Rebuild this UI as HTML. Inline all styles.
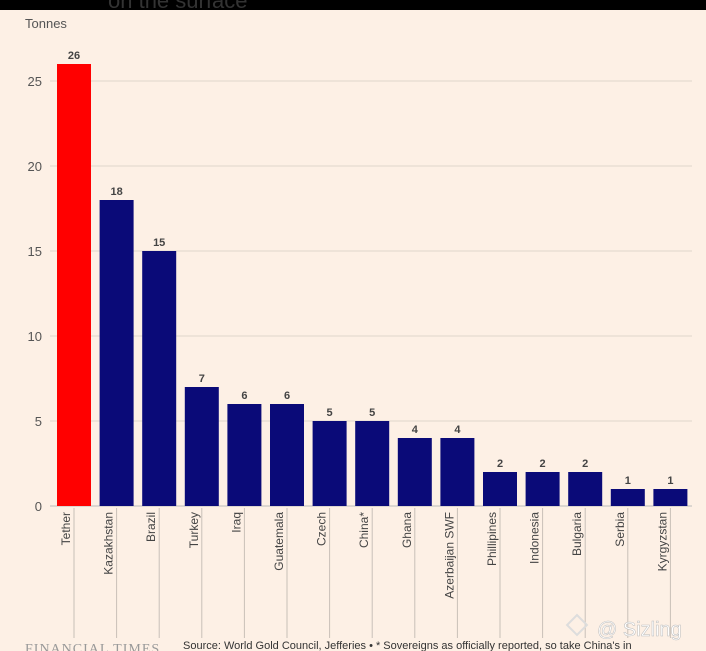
<!DOCTYPE html>
<html><head><meta charset="utf-8"><style>
html,body{margin:0;padding:0;background:#fdf0e5;}
body{width:706px;height:651px;overflow:hidden;position:relative;font-family:"Liberation Sans",sans-serif;}
#topbar{position:absolute;left:0;top:0;width:706px;height:10px;background:#000;overflow:hidden;}
#topbar span{position:absolute;left:108px;top:-12px;font-size:22px;color:#333;}
svg{position:absolute;left:0;top:0;}
</style></head><body>
<div id="topbar"><span>on the surface</span></div>
<svg id="chart" width="706" height="651"></svg>
<script>
const categories=["Tether","Kazakhstan","Brazil","Turkey","Iraq","Guatemala","Czech","China*","Ghana","Azerbaijan SWF","Phillipines","Indonesia","Bulgaria","Serbia","Kyrgyzstan"];
const values=[26,18,15,7,6,6,5,5,4,4,2,2,2,1,1];
const yTicks=[0,5,10,15,20,25];
const NS="http://www.w3.org/2000/svg";
const svg=document.getElementById('chart');
const y0=506,pxPer=17,x0=57,step=42.6,bw=34;
const y=v=>y0-v*pxPer;
const xc=i=>x0+bw/2+i*step;
function mk(t,a,txt){const e=document.createElementNS(NS,t);for(const k in a)e.setAttribute(k,a[k]);if(txt!==undefined)e.textContent=txt;svg.appendChild(e);return e;}
let t=mk('text',{x:25,y:28,'font-size':13,fill:'#555'},'Tonnes');


yTicks.forEach(v=>{
 const l=mk('line',{x1:50,x2:692,y1:y(v),y2:y(v),stroke:v===0?'#bbb':'#e0d6cc','stroke-width':1});
 
 
 const tx=mk('text',{x:42,y:y(v)+5,'font-size':13,fill:'#555','text-anchor':'end'},v);
 
 
});
categories.forEach((c,i)=>{
 const ln=mk('line',{x1:xc(i),x2:xc(i),y1:508,y2:638,stroke:'#c8c0b8','stroke-width':1});
 
 
 const r=mk('rect',{x:xc(i)-bw/2,y:y(values[i]),width:bw,height:values[i]*pxPer,fill:i===0?'#ff0000':'#0a0a78'});
 
 
 const vl=mk('text',{x:xc(i),y:y(values[i])-5,'font-size':11,'font-weight':'bold',fill:'#444','text-anchor':'middle'},values[i]);
 
 
 const cl=mk('text',{x:0,y:0,'font-size':12,fill:'#444','text-anchor':'end',transform:`translate(${xc(i)-4},512) rotate(-90)`},c);
 
 
});
let ft=mk('text',{x:25,y:653,'font-size':14,fill:'#999','font-family':'Liberation Serif, serif','letter-spacing':'1'},'FINANCIAL TIMES');


let src=mk('text',{x:183,y:649,'font-size':11,fill:'#333'},'Source: World Gold Council, Jefferies • * Sovereigns as officially reported, so take China\'s in');


let wm=mk('text',{x:597,y:636,'font-size':20,fill:'#ffffff',stroke:'#bbb','stroke-width':0.5},'@ Sizling');


let wi=mk('rect',{x:570,y:618,width:14,height:14,fill:'none',stroke:'#ddd','stroke-width':2,transform:'rotate(45 577 625)'});


</script>
</body></html>
